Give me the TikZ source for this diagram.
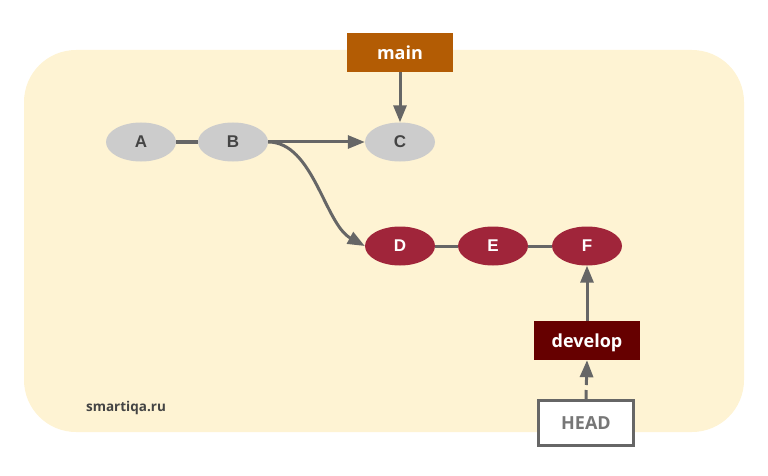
\documentclass[tikz,border=0pt]{standalone}
\usepackage{fontspec}
\setmainfont{Open Sans}
\newfontfamily\arialfont{Liberation Sans}
\usetikzlibrary{arrows.meta,shapes.geometric}
\definecolor{bgyellow}{HTML}{FEF3D3}
\definecolor{maincol}{HTML}{B35C04}
\definecolor{devcol}{HTML}{660000}
\definecolor{commitred}{HTML}{A0253A}
\definecolor{commitgray}{HTML}{CCCCCC}
\definecolor{linegray}{HTML}{666666}
\definecolor{headgray}{HTML}{777777}
\definecolor{textdark}{HTML}{444444}
\tikzset{
  oldcommit/.style={ellipse, fill=commitgray, minimum width=70pt, minimum height=39pt, inner sep=0pt, font=\arialfont\fontsize{17}{18}\selectfont\bfseries, text=textdark},
  newcommit/.style={ellipse, fill=commitred, minimum width=70pt, minimum height=39pt, inner sep=0pt, font=\arialfont\fontsize{17}{18}\selectfont\bfseries, text=white},
  branchbox/.style={rectangle, minimum width=106pt, minimum height=39pt, inner sep=0pt, text depth=0pt, font=\fontsize{18}{20}\selectfont\bfseries, text=white},
  headbox/.style={rectangle, draw=linegray, line width=3pt, fill=white, minimum width=95pt, minimum height=45pt, inner sep=0pt, font=\fontsize{18}{20}\selectfont\bfseries, text=headgray},
  link/.style={draw=linegray, line width=3pt},
  arrowlink/.style={draw=linegray, line width=3pt, -{Triangle[length=17pt,width=13pt]}},
}
\begin{document}
\begin{tikzpicture}[x=1pt,y=-1pt]
\useasboundingbox (0,0) rectangle (768,476);
\fill[bgyellow, rounded corners=52pt] (24,50) rectangle (744,432);
\node[oldcommit] (A) at (141,142) {A};
\node[oldcommit] (B) at (233,142) {B};
\node[oldcommit] (C) at (400,142) {C};
\node[newcommit] (D) at (400,246) {D};
\node[newcommit] (E) at (493,246) {E};
\node[newcommit] (F) at (587,246) {F};
\node[branchbox, fill=maincol] (main) at (400,52.5) {main};
\node[branchbox, fill=devcol] (develop) at (587,340.5) {develop};
\node[headbox] (head) at (586,423) {HEAD};
\node[font=\fontsize{13.5}{15}\selectfont\bfseries, text=textdark] (site) at (126,408) {smartiqa.ru};
\draw[link, line width=4pt] (A) -- (B);
\draw[link] (D) -- (E);
\draw[link] (E) -- (F);
\draw[arrowlink] (B.east) -- (C.west);
\draw[arrowlink] (main.south) -- (C.north);
\draw[arrowlink] (B.east) .. controls +(45,0) and +(-40,-22) .. (D.west);
\draw[arrowlink] (develop.north) -- (F.south);
\draw[arrowlink, dash pattern=on 9pt off 5pt] (head.north) -- (develop.south);
\end{tikzpicture}
\end{document}
